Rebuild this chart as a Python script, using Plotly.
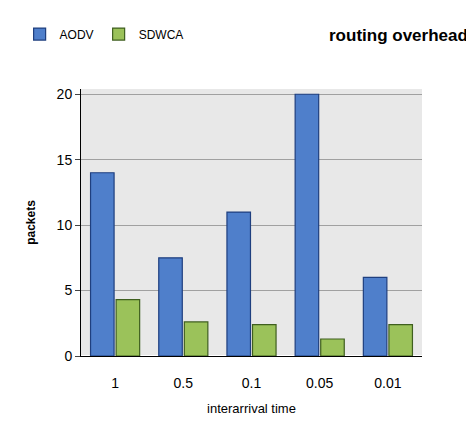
import plotly.graph_objects as go

categories = ["1", "0.5", "0.1", "0.05", "0.01"]
aodv = [14, 7.5, 11, 20, 6]
sdwca = [4.3, 2.6, 2.4, 1.3, 2.4]

fig = go.Figure()
fig.add_bar(x=categories, y=aodv, name="AODV", marker=dict(color="#4F7FCB", line=dict(color="#1F3F7F", width=1.2)))
fig.add_bar(x=categories, y=sdwca, name="SDWCA", marker=dict(color="#9BC25A", line=dict(color="#3F5F1F", width=1.2)))
fig.update_layout(
    width=474, height=430, barmode="group", bargap=0.25, bargroupgap=0.08,
    paper_bgcolor="white", plot_bgcolor="#E8E8E8",
    margin=dict(l=68, r=60, t=68, b=82),
    font=dict(family="Arial, Liberation Sans", color="black", size=14),
    legend=dict(orientation="h", x=-0.18, y=1.26, xanchor="left", yanchor="top", font=dict(size=12)),
    yaxis=dict(range=[0, 20.4], dtick=5, gridcolor="#A0A0A0", showline=True, linecolor="black",
               ticks="outside", ticklen=5,
               title=dict(text="<b>packets</b>", font=dict(size=12), standoff=18)),
    xaxis=dict(showline=True, linecolor="black", ticklabelstandoff=14,
               title=dict(text="interarrival time", font=dict(size=13), standoff=14)),
)
fig.add_annotation(text="<b>routing overhead</b>", x=0.72, y=1.2, xref="paper", yref="paper",
                   xanchor="left", yanchor="middle", showarrow=False, font=dict(size=17))
fig.write_html("out.html")
